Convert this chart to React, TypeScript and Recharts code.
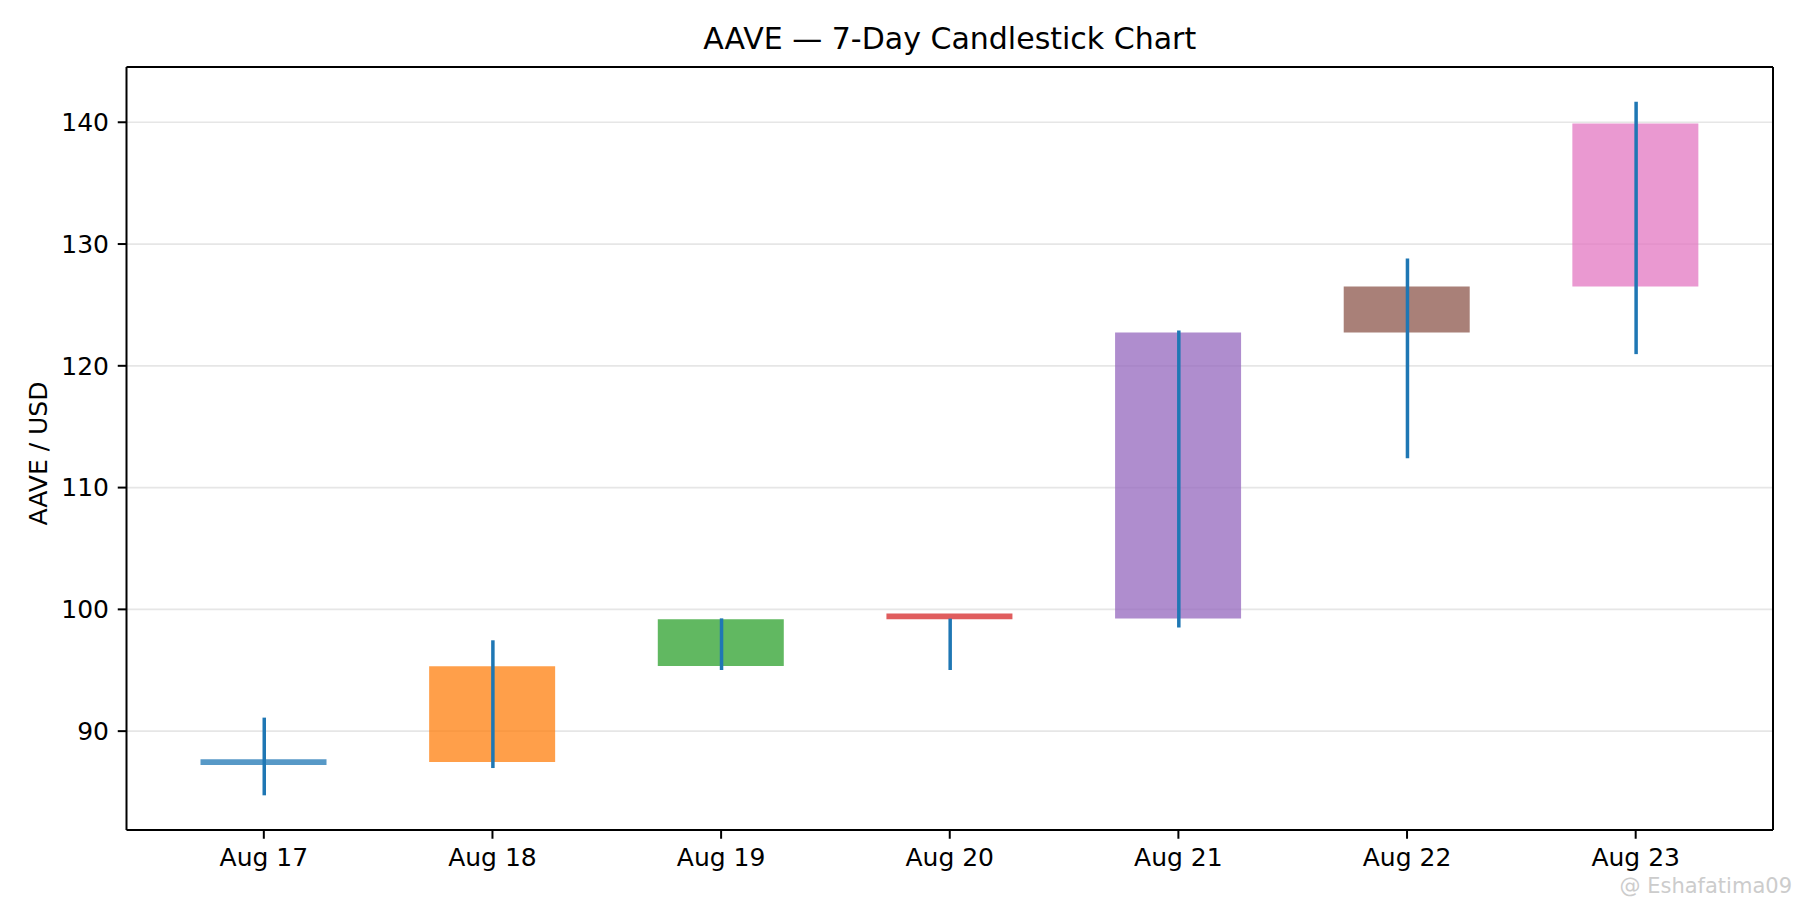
import { Bar, CartesianGrid, Cell, ComposedChart, XAxis, YAxis } from "recharts";

// daily OHLC for AAVE
const days = ["Aug 17", "Aug 18", "Aug 19", "Aug 20", "Aug 21", "Aug 22", "Aug 23"];
const opens = [87.22, 87.46, 95.35, 99.18, 99.26, 122.74, 126.52];
const closes = [87.69, 95.32, 99.18, 99.67, 122.74, 126.52, 139.9];
const highs = [91.11, 97.46, 99.26, 99.24, 122.9, 128.82, 141.69];
const lows = [84.73, 86.97, 95.02, 95.02, 98.52, 112.4, 120.96];
const yTicks = [90, 100, 110, 120, 130, 140];

const palette = ["#1f77b4", "#ff7f0e", "#2ca02c", "#d62728", "#9467bd", "#8c564b", "#e377c2"];

const rows = days.map((day, i) => ({
  day,
  body: [Math.min(opens[i], closes[i]), Math.max(opens[i], closes[i])],
  wick: [lows[i], highs[i]],
}));

// matplotlib-style 5% margin around the data
const lo = Math.min(...lows);
const hi = Math.max(...highs);
const pad = (hi - lo) * 0.05;
const yDomain = [lo - pad, hi + pad];

const font = "DejaVu Sans, sans-serif";
const black = { stroke: "#000", strokeWidth: 2 };

export default function App() {
  return (
    <div
      style={{
        position: "absolute",
        left: 0,
        top: 0,
        width: 1800,
        height: 900,
        background: "#fff",
        fontFamily: font,
      }}
    >
      <ComposedChart
        width={1800}
        height={900}
        data={rows}
        margin={{ top: 66, right: 26, bottom: 40, left: 66.5 }}
      >
        <CartesianGrid vertical={false} stroke="#e6e6e6" strokeWidth={1.7} ticks={yTicks} />
        <XAxis
          dataKey="day"
          height={30}
          padding={{ left: 23, right: 23 }}
          tickSize={8.75}
          tickMargin={9}
          tick={{ fontSize: 25, fill: "#000", fontFamily: font }}
          axisLine={black}
          tickLine={black}
        />
        <XAxis
          xAxisId="wick"
          dataKey="day"
          orientation="top"
          height={1}
          padding={{ left: 23, right: 23 }}
          tick={false}
          tickLine={false}
          axisLine={black}
        />
        <YAxis
          width={60}
          domain={yDomain}
          allowDataOverflow
          ticks={yTicks}
          tickSize={8.75}
          tickMargin={8.75}
          tick={{ fontSize: 25, fill: "#000", fontFamily: font }}
          axisLine={black}
          tickLine={black}
        />
        <YAxis
          yAxisId="frame"
          orientation="right"
          width={1}
          domain={yDomain}
          allowDataOverflow
          tick={false}
          tickLine={false}
          axisLine={black}
        />
        <Bar dataKey="body" barSize={126} isAnimationActive={false}>
          {rows.map((r, i) => (
            <Cell key={r.day} fill={palette[i]} fillOpacity={0.75} />
          ))}
        </Bar>
        <Bar
          xAxisId="wick"
          dataKey="wick"
          barSize={3.5}
          fill="#1f77b4"
          isAnimationActive={false}
        />
      </ComposedChart>

      <svg
        width={1800}
        height={900}
        style={{ position: "absolute", left: 0, top: 0, pointerEvents: "none" }}
      >
        <text x={949.75} y={49} textAnchor="middle" fontSize={30} fill="#000" fontFamily={font}>
          AAVE — 7-Day Candlestick Chart
        </text>
        <text
          transform="translate(46.7,453.5) rotate(-90)"
          textAnchor="middle"
          fontSize={25}
          fill="#000"
          fontFamily={font}
        >
          AAVE / USD
        </text>
        <text x={1792} y={893} textAnchor="end" fontSize={21} fill="#cccccc" fontFamily={font}>
          @ Eshafatima09
        </text>
      </svg>
    </div>
  );
}
